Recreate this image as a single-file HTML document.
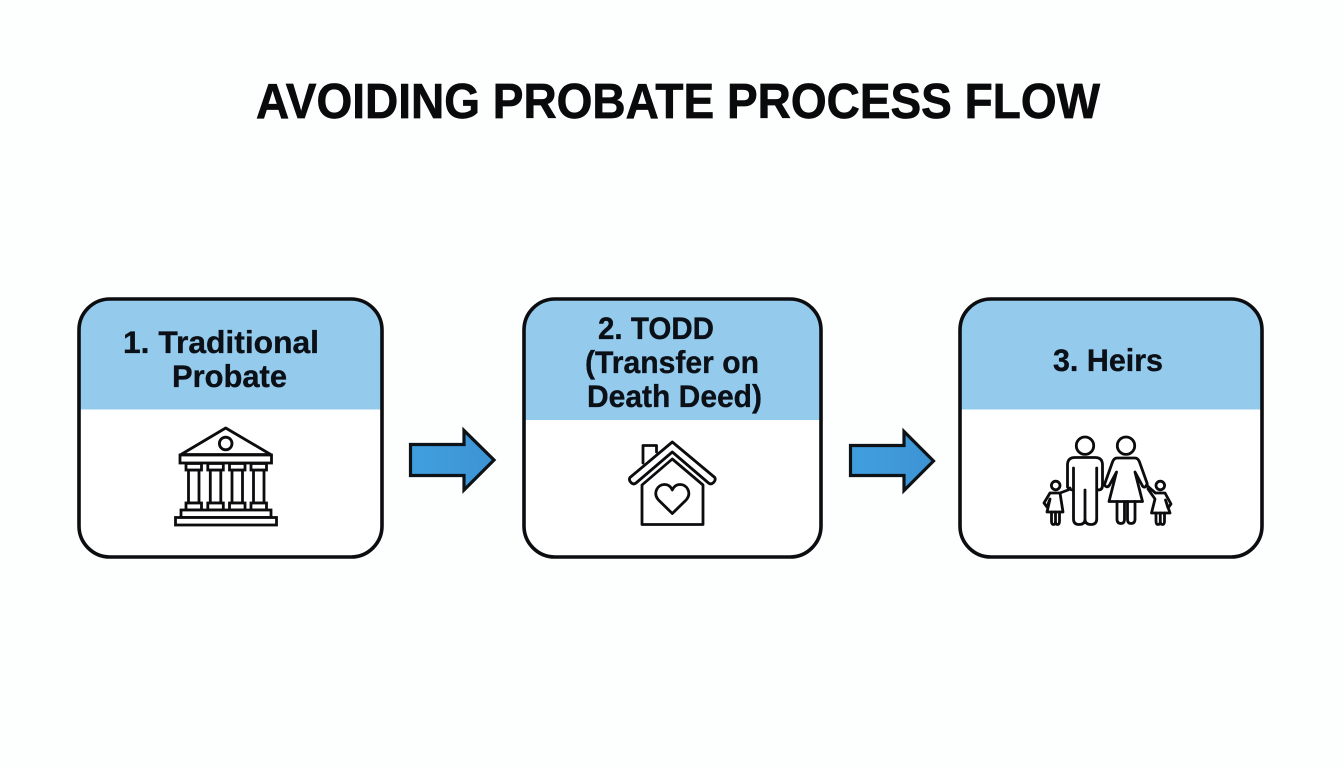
<!DOCTYPE html>
<html lang="en"><head><meta charset="utf-8"><title>Avoiding Probate Process Flow</title>
<style>
html,body{margin:0;padding:0;background:#fdfefe}
svg{display:block}
text{font-family:"Liberation Sans",sans-serif;font-weight:700;fill:#0b0f16}
.l{stroke:#0b0f16;stroke-width:.35}
.i{fill:none;stroke:#0c0c0e;stroke-width:2.8;stroke-linejoin:round;stroke-linecap:round}
.b{fill:#fff;stroke:#0c0c0e;stroke-width:2.8;stroke-linejoin:miter}
</style></head><body>
<svg xmlns="http://www.w3.org/2000/svg" width="1344" height="768" viewBox="0 0 1344 768">
<defs>
<linearGradient id="a" x1="0" y1="0" x2="1" y2="0"><stop offset="0" stop-color="#419fdf"/><stop offset="1" stop-color="#3d93d4"/></linearGradient>
<clipPath id="c1"><rect x="79" y="299" width="303" height="258" rx="31"/></clipPath>
<clipPath id="c2"><rect x="524" y="299" width="297" height="258" rx="31"/></clipPath>
<clipPath id="c3"><rect x="960" y="299" width="302" height="258" rx="31"/></clipPath>
</defs>
<rect width="1344" height="768" fill="#fdfefe"/>
<text x="256" y="118" font-size="49" textLength="844" lengthAdjust="spacingAndGlyphs" style="fill:#0a0a0c;stroke:#0a0a0c;stroke-width:.7">AVOIDING PROBATE PROCESS FLOW</text>

<!-- Box 1 -->
<rect x="79" y="299" width="303" height="258" rx="31" fill="#fff"/>
<rect x="79" y="299" width="303" height="110.500" fill="#94cbed" clip-path="url(#c1)"/>
<rect x="79" y="299" width="303" height="258" rx="31" fill="none" stroke="#0c0d10" stroke-width="3.600"/>
<text class="l" x="123" y="353" font-size="31.500" textLength="196" lengthAdjust="spacingAndGlyphs">1. Traditional</text>
<text class="l" x="172" y="387" font-size="31.500" textLength="115" lengthAdjust="spacingAndGlyphs">Probate</text>

<!-- Bank icon -->
<g>
<path class="i" d="M225.700 428 L181 454.500 H270.700 Z"/>
<circle class="i" cx="225.700" cy="443.500" r="6.300"/>
<rect class="b" x="180" y="455" width="91.500" height="8"/>
<rect class="b" x="188.500" y="470" width="10.500" height="33"/>
<rect class="b" x="186" y="463.500" width="15.500" height="6.500"/>
<rect class="b" x="186" y="503" width="15.500" height="7"/>
<rect class="b" x="210.300" y="470" width="10.500" height="33"/>
<rect class="b" x="207.800" y="463.500" width="15.500" height="6.500"/>
<rect class="b" x="207.800" y="503" width="15.500" height="7"/>
<rect class="b" x="232" y="470" width="10.500" height="33"/>
<rect class="b" x="229.500" y="463.500" width="15.500" height="6.500"/>
<rect class="b" x="229.500" y="503" width="15.500" height="7"/>
<rect class="b" x="253.500" y="470" width="10.500" height="33"/>
<rect class="b" x="251" y="463.500" width="15.500" height="6.500"/>
<rect class="b" x="251" y="503" width="15.500" height="7"/>
<rect class="b" x="181" y="510" width="90" height="7.500"/>
<rect class="b" x="175.500" y="517.500" width="101" height="7.500"/>
</g>

<!-- Arrow 1 -->
<path d="M410.500 444.500 H464 V430.500 L494 460 L464 490 V475.500 H410.500 Z" fill="url(#a)" stroke="#0c1216" stroke-width="3.200" stroke-linejoin="miter"/>

<!-- Box 2 -->
<rect x="524" y="299" width="297" height="258" rx="31" fill="#fff"/>
<rect x="524" y="299" width="297" height="121" fill="#94cbed" clip-path="url(#c2)"/>
<rect x="524" y="299" width="297" height="258" rx="31" fill="none" stroke="#0c0d10" stroke-width="3.600"/>
<text class="l" x="598" y="339" font-size="31.500" textLength="116" lengthAdjust="spacingAndGlyphs">2. TODD</text>
<text class="l" x="585" y="373" font-size="31.500" textLength="174" lengthAdjust="spacingAndGlyphs">(Transfer on</text>
<text class="l" x="587" y="407" font-size="31.500" textLength="175" lengthAdjust="spacingAndGlyphs">Death Deed)</text>

<!-- House icon -->
<g>
<path class="i" d="M643 463 V445.500 H656.500 V452"/>
<path class="i" d="M630 477.500 L672.300 442 L714.800 477.500 Q716 480 713.500 482.500 Q711 485 708.500 483 L672.300 452 L636 483 Q633.500 485 631 482.500 Q628.500 480 630 477.500 Z"/>
<path class="i" d="M642 485 L672.300 459 L703 485 V524.500 H642 Z"/>
<path class="i" d="M672.300 513.500 L658.500 500 C652.500 493 657.500 484.500 664.500 484.500 C668.500 484.500 671 487 672.300 490 C673.600 487 676.100 484.500 680.100 484.500 C687.100 484.500 692.100 493 686.100 500 Z"/>
</g>

<!-- Arrow 2 -->
<path d="M850.500 445.500 H904 V431.500 L933.500 461 L904 490.500 V475.500 H850.500 Z" fill="url(#a)" stroke="#0c1216" stroke-width="3.200" stroke-linejoin="miter"/>

<!-- Box 3 -->
<rect x="960" y="299" width="302" height="258" rx="31" fill="#fff"/>
<rect x="960" y="299" width="302" height="110.500" fill="#94cbed" clip-path="url(#c3)"/>
<rect x="960" y="299" width="302" height="258" rx="31" fill="none" stroke="#0c0d10" stroke-width="3.600"/>
<text class="l" x="1053" y="371" font-size="31.500" textLength="110" lengthAdjust="spacingAndGlyphs">3. Heirs</text>

<!-- Family icon -->
<g>
<circle class="i" cx="1085" cy="445.700" r="8.700"/>
<circle class="i" cx="1126" cy="445.700" r="8.700"/>
<path class="i" d="M1073.500 468 V519 Q1073.500 524.500 1079 524.500 Q1085 524.500 1085 519 V490 M1085 519 Q1085 524.500 1091 524.500 Q1096.700 524.500 1096.700 519 V468 M1073.500 490 Q1069 490 1067.500 487 V465 Q1067.500 457.500 1075 457.500 H1095 Q1102.500 457.500 1102.500 465 V485 Q1102.500 490 1098.500 490 L1096.700 489"/>
<path class="i" d="M1117 458 H1135 Q1138 458 1139.500 462 L1147 483 Q1148 486 1145 487 Q1143 487.500 1142 485 L1135 472 L1142.500 501.500 H1109 L1116.500 472 L1109.500 485 Q1108 487.500 1106 486.500 Q1104 485.500 1105 483 L1112.500 462 Q1114 458 1117 458 Z"/>
<path class="i" d="M1117 501.500 V519 Q1117 523.500 1121 523.500 Q1124.500 523.500 1124.500 519 V501.500 M1127.500 501.500 V519 Q1127.500 523.500 1131 523.500 Q1135 523.500 1135 519 V501.500"/>
<circle class="i" cx="1055.700" cy="485.500" r="4.300"/>
<path class="i" d="M1050 493 H1060 L1068 490 L1070 488 M1060 493 L1063 512 H1047 L1050 499 L1047 507 L1044 503 L1050 493"/>
<path class="i" d="M1051.500 512 V521 Q1051.500 524.500 1053.500 524.500 Q1055.500 524.500 1055.500 521 V512 M1055.500 521 Q1055.500 524.500 1057.500 524.500 Q1059.500 524.500 1059.500 521 V512"/>
<circle class="i" cx="1160.300" cy="485.500" r="4.300"/>
<path class="i" d="M1155.500 493 H1165 L1171 504 L1168 508 L1165.500 500 L1170 513 H1151.500 L1155 499 L1148 489 M1155.500 493 L1152 490 L1146.500 485"/>
<path class="i" d="M1156 513 V521 Q1156 524.500 1158 524.500 Q1160.300 524.500 1160.300 521 V513 M1160.300 521 Q1160.300 524.500 1162.500 524.500 Q1164.500 524.500 1164.500 521 V513"/>
</g>
</svg>
</body></html>
